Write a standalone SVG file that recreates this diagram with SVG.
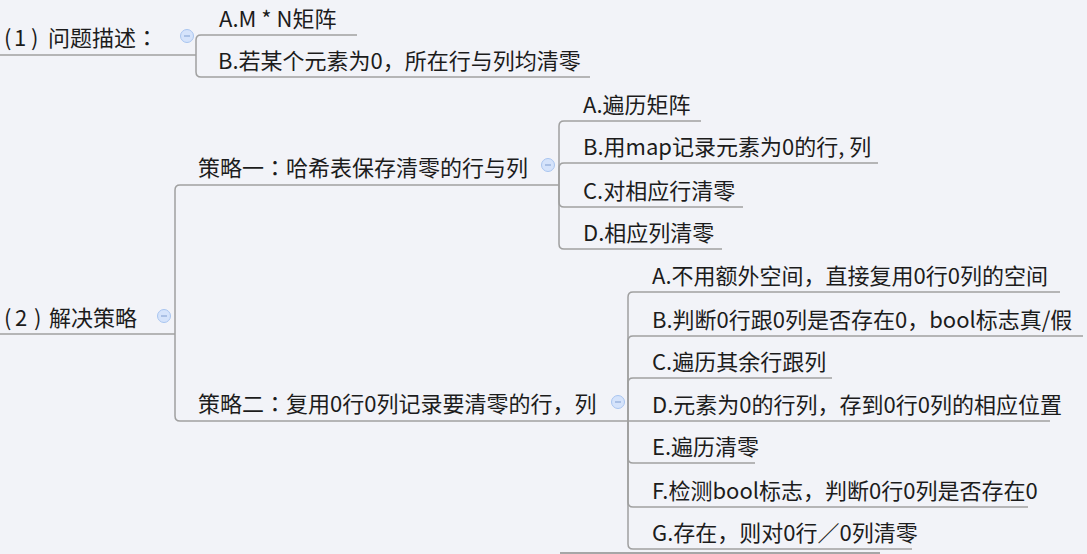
<svg xmlns="http://www.w3.org/2000/svg" width="1087" height="554" viewBox="0 0 1087 554">
<defs>
<style>
.t{font-family:"Noto Sans CJK SC","Noto Sans",sans-serif;font-size:22px;fill:#1c1c1c}
.j{font-family:"Noto Sans CJK JP","Noto Sans CJK SC",sans-serif}
.u{fill:none;stroke:#a0a0a0;stroke-width:1.5}
.c{fill:none;stroke:#a0a0a0;stroke-width:1.5}
.btn circle{fill:#d5e3fb;stroke:#a9c5f0;stroke-width:1}
.btn line{stroke:#8ea9d8;stroke-width:1.2}
</style>
</defs>
<rect width="1087" height="554" fill="#f2f3f8"/>
<g id="connectors">
<path class="c" d="M196 55 V40 Q196 35 201 35"/>
<path class="c" d="M196 55 V72 Q196 77 201 77"/>
<path class="c" d="M175 334 V190 Q175 185 180 185"/>
<path class="c" d="M175 334 V416 Q175 421 180 421"/>
<path class="c" d="M559 185 V126 Q559 121 564 121"/>
<path class="c" d="M559 185 V168 Q559 163 564 163"/>
<path class="c" d="M559 185 V202 Q559 207 564 207"/>
<path class="c" d="M559 185 V244 Q559 249 564 249"/>
<path class="c" d="M628 421 V297 Q628 292 633 292"/>
<path class="c" d="M628 421 V341 Q628 336 633 336"/>
<path class="c" d="M628 421 V383 Q628 378 633 378"/>
<path class="c" d="M628 421 H633"/>
<path class="c" d="M628 421 V458 Q628 463 633 463"/>
<path class="c" d="M628 421 V502 Q628 507 633 507"/>
<path class="c" d="M628 421 V544 Q628 549 633 549"/>
</g>
<g id="root1">
<text class="t" y="46"><tspan x="4">(</tspan><tspan x="14">1</tspan><tspan x="31">)</tspan><tspan x="48">问题描述</tspan><tspan class="j">：</tspan></text>
<path class="u" d="M0 55 H196"/>
<g class="btn"><circle cx="187" cy="36" r="6.5"/><line x1="184" y1="36" x2="190" y2="36"/></g>
</g>
<g id="r1a">
<text class="t" x="219" y="27">A.M * N矩阵</text>
<path class="u" d="M201 35 H357"/>
</g>
<g id="r1b">
<text class="t" x="218" y="69">B.若某个元素为0，所在行与列均清零</text>
<path class="u" d="M201 77 H590"/>
</g>
<g id="root2">
<text class="t" y="326"><tspan x="4">(</tspan><tspan x="15">2</tspan><tspan x="34">)</tspan><tspan x="49">解决策略</tspan></text>
<path class="u" d="M0 334 H175"/>
<g class="btn"><circle cx="164" cy="316" r="6.5"/><line x1="161" y1="316" x2="167" y2="316"/></g>
</g>
<g id="s1">
<text class="t" x="198" y="176">策略一<tspan class="j">：</tspan>哈希表保存清零的行与列</text>
<path class="u" d="M180 185 H559"/>
<g class="btn"><circle cx="548" cy="165" r="6.5"/><line x1="545" y1="165" x2="551" y2="165"/></g>
</g>
<g id="s1a"><text class="t" x="583" y="113">A.遍历矩阵</text><path class="u" d="M564 121 H701"/></g>
<g id="s1b"><text class="t" x="583" y="155">B.用map记录元素为0的行, 列</text><path class="u" d="M564 163 H878"/></g>
<g id="s1c"><text class="t" x="583" y="199">C.对相应行清零</text><path class="u" d="M564 207 H743"/></g>
<g id="s1d"><text class="t" x="583" y="241">D.相应列清零</text><path class="u" d="M564 249 H722"/></g>
<g id="s2">
<text class="t" x="198" y="412">策略二<tspan class="j">：</tspan>复用0行0列记录要清零的行，列</text>
<path class="u" d="M180 421 H628"/>
<g class="btn"><circle cx="618" cy="402" r="6.5"/><line x1="615" y1="402" x2="621" y2="402"/></g>
</g>
<g id="s2a"><text class="t" x="652" y="284">A.不用额外空间，直接复用0行0列的空间</text><path class="u" d="M633 292 H1060"/></g>
<g id="s2b"><text class="t" x="652" y="328">B.判断0行跟0列是否存在0，bool标志真/假</text><path class="u" d="M633 336 H1083"/></g>
<g id="s2c"><text class="t" x="652" y="370">C.遍历其余行跟列</text><path class="u" d="M633 378 H832"/></g>
<g id="s2d"><text class="t" x="652" y="413">D.元素为0的行列，存到0行0列的相应位置</text><path class="u" d="M633 421 H1050"/></g>
<g id="s2e"><text class="t" x="652" y="455">E.遍历清零</text><path class="u" d="M633 463 H755"/></g>
<g id="s2f"><text class="t" x="652" y="499">F.检测bool标志，判断0行0列是否存在0</text><path class="u" d="M633 507 H1028"/></g>
<g id="s2g"><text class="t" x="652" y="541">G.存在，则对0行／0列清零</text><path class="u" d="M633 549 H912"/></g>
<path d="M560 553 H880" stroke="#8c8c8c" stroke-width="1.5"/>
</svg>
